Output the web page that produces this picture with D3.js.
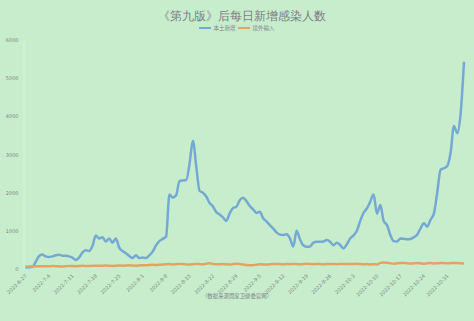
<!DOCTYPE html>
<html><head><meta charset="utf-8">
<script src="https://cdn.jsdelivr.net/npm/d3@7/dist/d3.min.js"></script>
<style>html,body{margin:0;padding:0;background:#c7edcc;}svg{display:block;}</style>
</head><body>
<svg id="chart" width="474" height="321"></svg>
<script>
const title = "《第九版》后每日新增感染人数";
const source = "（数据来源国家卫健委官网）";
const seriesNames = ["本土新增", "境外输入"];
const startDate = "2022-06-27";
const yTicks = [0, 1000, 2000, 3000, 4000, 5000, 6000];
const localCases = [40,45,50,180,330,380,330,315,330,360,
 375,350,345,330,300,240,300,430,490,470,
 600,880,800,830,720,800,690,800,560,470,
 410,340,290,360,285,300,285,360,455,620,
 730,790,850,1950,1870,1930,2300,2320,2330,2750,
 3360,2700,2050,2000,1900,1730,1640,1490,1430,1350,
 1260,1460,1600,1630,1800,1870,1780,1650,1565,1470,
 1500,1330,1250,1150,1060,960,900,890,910,805,
 590,1000,780,620,585,590,690,715,715,720,
 760,715,620,690,630,540,650,800,880,1000,
 1260,1470,1590,1765,1950,1450,1680,1260,1150,890,
 730,720,800,790,780,785,830,900,1060,1200,
 1110,1290,1450,2000,2600,2640,2700,3050,3750,3560,
 4080,5430];
const importedCases = [60,65,70,68,72,75,70,72,78,74,
 70,66,72,80,76,74,78,82,80,76,
 84,88,82,86,90,84,80,88,92,86,
 90,96,92,88,94,100,96,104,110,106,
 112,118,124,130,120,126,132,128,122,118,
 126,134,130,124,140,150,132,126,122,130,
 124,120,128,136,130,118,104,98,100,112,
 126,120,116,124,130,134,128,122,130,126,
 132,128,124,130,136,130,126,132,128,124,
 130,134,128,126,132,130,128,134,130,136,
 128,124,130,120,126,118,160,170,165,150,
 140,148,156,160,150,142,150,156,148,140,
 150,156,146,150,158,152,148,154,160,156,
 150,146];

const parse = d3.timeParse("%Y-%m-%d");
const fmt = d3.timeFormat("%Y-%-m-%-d");
const day0 = parse(startDate);
const dates = localCases.map((_, i) => d3.timeDay.offset(day0, i));
const cats = dates.map(fmt);
const tickLabels = cats.filter((_, i) => i % 7 === 0);

const svg = d3.select("#chart");
const mLeft = 25.5, mRight = 464, mTop = 40, mBottom = 269;
const x = d3.scalePoint().domain(cats).range([mLeft, mRight]);
const y = d3.scaleLinear().domain([0, 6000]).range([mBottom, mTop]);

const grey = "#80858a";
// title
svg.append("text").attr("x", 242).attr("y", 20).attr("text-anchor", "middle")
  .attr("font-family", "serif").attr("font-size", 11.8).attr("fill", "#7c8085").text(title);

// legend
const colors = ["#74a9d4", "#e3a462"];
const legX = [199, 238];
seriesNames.forEach((n, i) => {
  svg.append("line").attr("x1", legX[i]).attr("x2", legX[i] + 12).attr("y1", 28).attr("y2", 28)
    .attr("stroke", colors[i]).attr("stroke-width", 2);
  svg.append("text").attr("x", legX[i] + 14.5).attr("y", 28).attr("dy", "0.35em")
    .attr("font-family", "Noto Sans CJK SC").attr("font-size", 5.5).attr("fill", grey).text(n);
});

// y axis
svg.append("line").attr("x1", mLeft - 1.5).attr("x2", mLeft - 1.5).attr("y1", mTop).attr("y2", mBottom)
  .attr("stroke", "rgba(255,255,255,0.35)").attr("stroke-width", 1);
const yAxis = d3.axisLeft(y).tickValues(yTicks).tickSize(0).tickPadding(0).tickFormat(d3.format("d"));
const ya = svg.append("g").attr("transform", `translate(${mLeft - 7},0)`).call(yAxis);
ya.select(".domain").remove();
ya.selectAll("text").attr("font-family", "DejaVu Sans").attr("font-size", 5).attr("fill", grey);

// x axis
const xAxis = d3.axisBottom(x).tickValues(tickLabels).tickSize(0).tickPadding(0);
const xa = svg.append("g").attr("transform", `translate(0,${mBottom + 6})`).call(xAxis);
xa.select(".domain").remove();
xa.selectAll("text").attr("font-family", "DejaVu Sans").attr("font-size", 5).attr("fill", grey)
  .attr("text-anchor", "end").attr("dy", "0.35em").attr("transform", "rotate(-45)");

// lines
const line = d3.line().x((d, i) => x(cats[i])).y(d => y(d)).curve(d3.curveMonotoneX);
svg.append("path").datum(localCases).attr("d", line).attr("fill", "none")
  .attr("stroke", colors[0]).attr("stroke-width", 2.5).attr("stroke-linejoin", "round");
svg.append("path").datum(importedCases).attr("d", line).attr("fill", "none")
  .attr("stroke", colors[1]).attr("stroke-width", 2.5).attr("stroke-linejoin", "round");

// source
svg.append("text").attr("x", 237).attr("y", 298).attr("text-anchor", "middle")
  .attr("font-family", "Noto Sans CJK SC").attr("font-size", 5.4).attr("fill", grey).text(source);
</script>
</body></html>
